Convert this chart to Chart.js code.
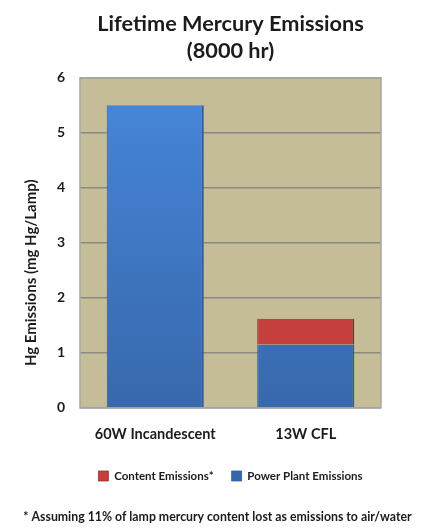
<!DOCTYPE html>
<html>
<head>
<meta charset="utf-8">
<script src="https://cdn.jsdelivr.net/npm/chart.js@4/dist/chart.umd.min.js"></script>
<style>
  html, body { margin: 0; padding: 0; background: #ffffff; }
  #wrap { width: 435px; height: 531px; }
</style>
</head>
<body>
<div id="wrap"><canvas id="hg-chart" width="435" height="531"></canvas></div>
<script>
// --- Data ---
const lamps = ['60W Incandescent', '13W CFL'];
const powerPlantEmissions = [5.5, 1.15];
const contentEmissions = [0, 0.47];
const yTicks = [0, 1, 2, 3, 4, 5, 6];

const textColor = '#1b1b1b';
const fontFamily = 'Lato, "Open Sans", sans-serif';

// tan plot background + grey frame
const plotBackground = {
    id: 'plotBackground',
    beforeDraw(chart) {
        const { ctx, chartArea: a } = chart;
        ctx.save();
        ctx.fillStyle = '#c4bd97';
        ctx.fillRect(a.left, a.top, a.right - a.left, a.bottom - a.top);
        ctx.restore();
    },
    afterDatasetsDraw(chart) {
        const { ctx, chartArea: a } = chart;
        ctx.save();
        ctx.strokeStyle = '#a6a6a6';
        ctx.lineWidth = 1.5;
        ctx.strokeRect(a.left, a.top, a.right - a.left, a.bottom - a.top);
        ctx.restore();
    }
};

const barFill = (top, bottom) => (context) => {
    const a = context.chart.chartArea;
    if (!a) return top;
    const g = context.chart.ctx.createLinearGradient(0, a.top, 0, a.bottom);
    g.addColorStop(0, top);
    g.addColorStop(1, bottom);
    return g;
};

const ctx = document.getElementById('hg-chart').getContext('2d');
new Chart(ctx, {
    type: 'bar',
    data: {
        labels: lamps,
        datasets: [
            {
                label: 'Power Plant Emissions',
                data: powerPlantEmissions,
                backgroundColor: barFill('#4787db', '#3868ac'),
                borderColor: '#2d5a96',
                borderWidth: { top: 0, left: 1, right: 2, bottom: 0 },
                borderSkipped: false,
                barPercentage: 0.645,
                categoryPercentage: 1
            },
            {
                label: 'Content Emissions*',
                data: contentEmissions,
                backgroundColor: '#c5403d',
                borderColor: '#8f2c2a',
                borderWidth: { top: 0, left: 1, right: 2, bottom: 0 },
                borderSkipped: false,
                barPercentage: 0.645,
                categoryPercentage: 1
            }
        ]
    },
    options: {
        responsive: false,
        animation: false,
        layout: { padding: { left: 0, right: 0, top: 0, bottom: 0 } },
        scales: {
            x: {
                stacked: true,
                grid: { display: false },
                border: { display: false },
                ticks: {
                    color: textColor,
                    font: { family: fontFamily, size: 14.5, weight: 'bold' },
                    padding: 9.5
                }
            },
            y: {
                stacked: true,
                min: 0,
                max: 6,
                afterBuildTicks: (scale) => { scale.ticks = yTicks.map(v => ({ value: v })); },
                afterFit: (scale) => { scale.width = 80; },
                grid: { color: '#8c8a80', lineWidth: 1.5, drawTicks: false },
                border: { display: false },
                ticks: {
                    color: textColor,
                    font: { family: fontFamily, size: 14, weight: 'bold' },
                    padding: 15
                },
                title: {
                    display: true,
                    // trailing wide spaces shift the rotated label down like the original
                    text: 'Hg Emissions (mg Hg/Lamp)\u3000\u3000\u3000\u3000',
                    color: textColor,
                    font: { family: fontFamily, size: 15, weight: 'bold' },
                    padding: { top: 22, bottom: 0 }
                }
            },
            yRight: {
                position: 'right',
                display: true,
                afterFit: (scale) => { scale.width = 54; },
                grid: { display: false },
                border: { display: false },
                ticks: { display: false }
            }
        },
        plugins: {
            title: {
                display: true,
                fullSize: false,
                text: ['Lifetime Mercury Emissions', '(8000 hr)'],
                color: textColor,
                font: { family: fontFamily, size: 21.7, weight: 'bold', lineHeight: 1.25 },
                padding: { top: 10, bottom: 13.5 }
            },
            legend: {
                position: 'bottom',
                fullSize: false,
                reverse: true,
                labels: {
                    color: textColor,
                    boxWidth: 10,
                    boxHeight: 10,
                    padding: 18,
                    font: { family: fontFamily, size: 11.5, weight: 'bold' }
                }
            },
            subtitle: {
                display: true,
                position: 'bottom',
                text: '* Assuming 11% of lamp mercury content lost as emissions to air/water',
                color: textColor,
                font: { family: fontFamily, size: 12.3, weight: 'bold' },
                padding: { top: 17.5, bottom: 7 }
            },
            tooltip: { enabled: false }
        }
    },
    plugins: [plotBackground]
});
</script>
</body>
</html>
